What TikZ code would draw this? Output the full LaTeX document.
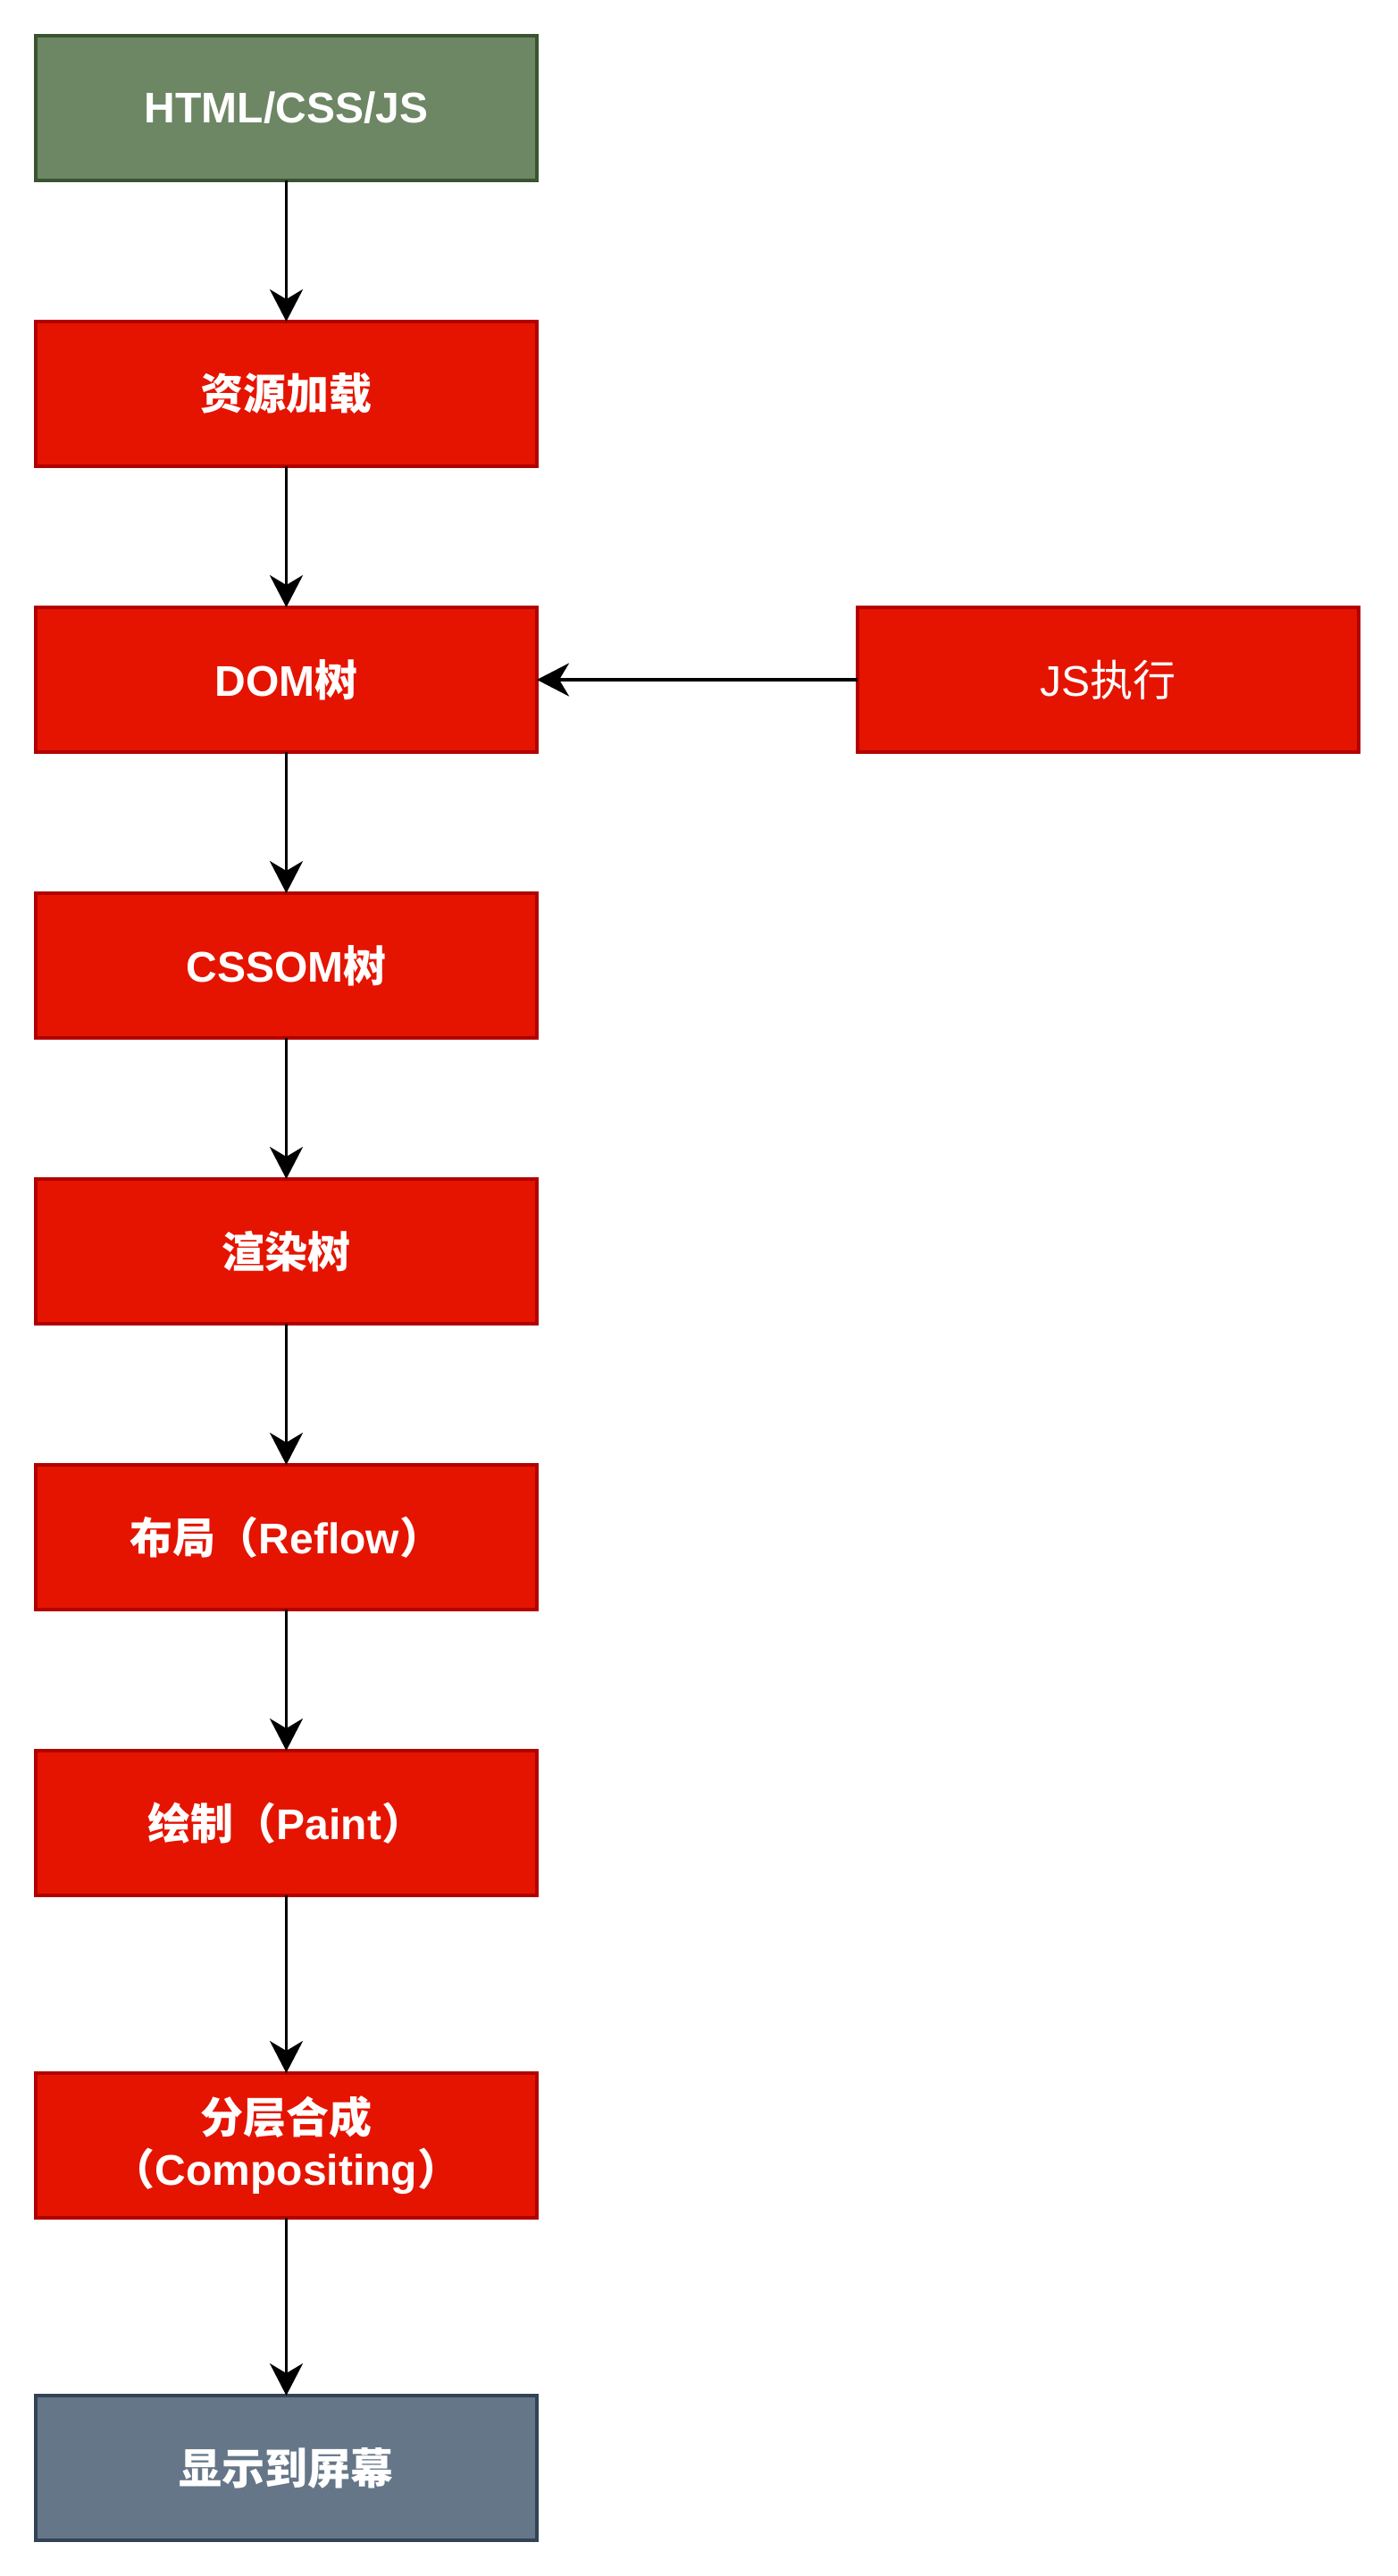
\documentclass[tikz,border=0pt]{standalone}
\usepackage{fontspec}
\setmainfont{Liberation Sans}
\newfontfamily\cjk{Noto Sans CJK SC}
\usetikzlibrary{positioning,arrows.meta}
\definecolor{srcfill}{HTML}{6D8764}
\definecolor{srcdraw}{HTML}{3A5431}
\definecolor{stagefill}{HTML}{E51400}
\definecolor{stagedraw}{HTML}{B20000}
\definecolor{screenfill}{HTML}{647687}
\definecolor{screendraw}{HTML}{314354}
\begin{document}
\begin{tikzpicture}[line width=1.8pt,node distance=79pt,
  stage/.style={draw=stagedraw,fill=stagefill,text=white,minimum width=280.5pt,minimum height=81pt,
    inner sep=0pt,outer sep=0pt,align=center,font=\fontsize{24}{29}\selectfont\bfseries},
  flow/.style={-{Stealth[length=18pt,width=18.5pt,inset=5.5pt]}}]
  \useasboundingbox (0,0) rectangle (782pt,-1442pt);
  % main pipeline
  \node[stage,fill=srcfill,draw=srcdraw] (html) at (160.25pt,-60.5pt) {HTML/CSS/JS};
  \node[stage,below=of html] (load) {{\cjk 资源加载}};
  \node[stage,below=of load] (dom) {DOM{\cjk 树}};
  \node[stage,below=of dom] (cssom) {CSSOM{\cjk 树}};
  \node[stage,below=of cssom] (render) {{\cjk 渲染树}};
  \node[stage,below=of render] (layout) {{\cjk 布局（}Reflow{\cjk ）}};
  \node[stage,below=of layout] (paint) {{\cjk 绘制（}Paint{\cjk ）}};
  \node[stage,below=99.5pt of paint] (comp) {{\cjk 分层合成}\\{\cjk （}Compositing{\cjk ）}};
  \node[stage,below=99.5pt of comp,fill=screenfill,draw=screendraw] (screen) {{\cjk 显示到屏幕}};
  % side input
  \node[stage,right=179.5pt of dom,font=\fontsize{24}{29}\selectfont\mdseries] (js) {JS{\cjk 执行}};
  \foreach \a/\b in {html/load,load/dom,dom/cssom,cssom/render,render/layout,layout/paint,paint/comp,comp/screen}
    \draw[flow] (\a) -- (\b);
  \draw[flow] (js) -- (dom);
\end{tikzpicture}
\end{document}
